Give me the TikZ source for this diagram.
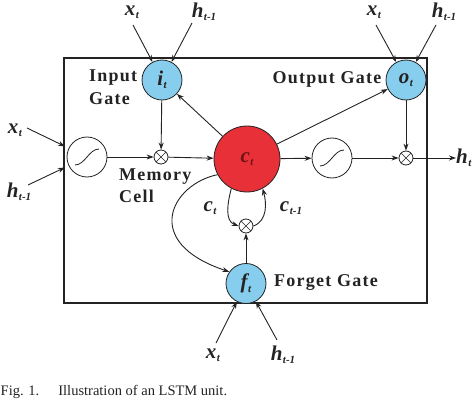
\documentclass[tikz,border=0pt]{standalone}
\usepackage{fontspec}
\setmainfont{Liberation Serif}
\newfontfamily\lblfont{Liberation Serif}[LetterSpace=7]
\usetikzlibrary{arrows.meta}
\definecolor{gateblue}{RGB}{135,206,238}
\definecolor{cellred}{RGB}{232,48,56}
\definecolor{ink}{RGB}{35,35,35}
\definecolor{darkred}{RGB}{110,20,22}
\newcommand\mvar[2]{{\bfseries\itshape\fontsize{21}{21}\selectfont #1}\kern0.5pt\raisebox{-3.5pt}{\bfseries\itshape\fontsize{11}{11}\selectfont #2}}
\tikzset{
  conn/.style={draw=ink, line width=0.9pt, -{Stealth[length=7pt,width=5pt]}},
  gate/.style={circle, draw=ink, line width=0.8pt, fill=gateblue, minimum size=40pt, inner sep=0pt, text=ink},
  cell/.style={circle, draw=ink, line width=0.8pt, fill=cellred, minimum size=66pt, inner sep=0pt, text=darkred},
  squash/.style={circle, draw=ink, line width=0.8pt, fill=white, minimum size=40pt, inner sep=0pt},
  mult/.style={circle, draw=ink, line width=0.8pt, fill=white, minimum size=14pt, inner sep=0pt,
    path picture={\draw[ink, line width=0.7pt] (path picture bounding box.south west) ++(2.05pt,2.05pt) -- ++(9.9pt,9.9pt)
      (path picture bounding box.north west) ++(2.05pt,-2.05pt) -- ++(9.9pt,-9.9pt);}},
  lbl/.style={font=\lblfont\bfseries\fontsize{18}{18}\selectfont, text=ink, inner sep=0pt},
  var/.style={text=ink, inner sep=0pt},
  unit/.style={draw=ink, line width=2.3pt},
}
\begin{document}
\begin{tikzpicture}[x=1pt,y=-1pt]
\useasboundingbox (0,0) rectangle (474,401);
% box
\draw[unit] (64,58) rectangle (427,303);
% nodes
\node[gate] (it) at (162,80) {\mvar{i}{t}};
\node[gate] (ot) at (406,80) {\mvar{o}{t}};
\node[gate] (ft) at (246,283.5) {\mvar{f}{t}};
\node[cell] (ct) at (247,159) {\mvar{c}{t}};
\node[squash] (sigL) at (87,157) {};
\node[squash] (sigR) at (332,158) {};
\node[mult] (mulL) at (161,157) {};
\node[mult] (mulR) at (406,158) {};
\node[mult] (mulM) at (246,226) {};
% sigmoid glyphs
\draw[ink, line width=0.8pt] (sigL.center) ++(-12,8) .. controls ++(10,0) and ++(-10,0) .. ++(24,-16);
\draw[ink, line width=0.8pt] (sigR.center) ++(-12,8) .. controls ++(10,0) and ++(-10,0) .. ++(24,-16);
% variable labels
\node[var] (xA) at (132,12) {\mvar{x}{t}};
\node[var] (hA) at (204,12) {\mvar{h}{t-1}};
\node[var] (xB) at (374,12) {\mvar{x}{t}};
\node[var] (hB) at (444,12) {\mvar{h}{t-1}};
\node[var] (xC) at (15,130) {\mvar{x}{t}};
\node[var] (hC) at (19,192) {\mvar{h}{t-1}};
\node[var] (xD) at (213,355) {\mvar{x}{t}};
\node[var] (hD) at (283,355) {\mvar{h}{t-1}};
\node[var,anchor=west] (ht) at (456,158) {\mvar{h}{t}};
\node[var] (cl) at (210,208) {\mvar{c}{t}};
\node[var] (cp) at (291,208) {\mvar{c}{t-1}};
% text labels
\node[lbl,anchor=west] (inp) at (89,78) {Input};
\node[lbl,anchor=west] (inpg) at (89,99) {Gate};
\node[lbl] (outg) at (327,79) {Output Gate};
\node[lbl,anchor=west] (mem) at (119,177) {Memory};
\node[lbl,anchor=west] (cel) at (119,196) {Cell};
\node[lbl] (forg) at (326,283) {Forget Gate};
% input arrow starts
\coordinate (sA1) at (133,25);
\coordinate (sA2) at (192,23);
\coordinate (sB1) at (376,25);
\coordinate (sB2) at (436,25);
\coordinate (sC1) at (27,128);
\coordinate (sC2) at (28,185);
\coordinate (sD1) at (216,343);
\coordinate (sD2) at (277,340);
\draw[conn] (sA1) -- (it);
\draw[conn] (sA2) -- (it);
\draw[conn] (sB1) -- (ot);
\draw[conn] (sB2) -- (ot);
\draw[conn, shorten >=4pt] (sC1) -- (sigL);
\draw[conn, shorten >=4pt] (sC2) -- (sigL);
\draw[conn] (sD1) -- (ft);
\draw[conn] (sD2) -- (ft);
% internal flow
\draw[conn] (sigL) -- (mulL);
\draw[conn] (mulL) -- (ct);
\draw[conn] (it) -- (mulL);
\draw[conn] (ct) -- (it);
\draw[conn] (ct) -- (ot);
\draw[conn] (ct) -- (sigR);
\draw[conn] (sigR) -- (mulR);
\draw[conn] (ot) -- (mulR);
\draw[conn] (mulR) -- (ht);
\draw[conn] (ft) -- (mulM);
\draw[conn] (ct.-118) to[out=-105, in=160] (mulM.west);
\draw[conn] (mulM.east) to[out=20, in=-75] (ct.-62);
\draw[conn] (ct.-152) .. controls (172,184) and (140,242) .. (ft.145);
% caption
\node[anchor=west, inner sep=0pt, text=ink, font=\fontsize{14.5}{14.5}\selectfont] (cap) at (0.5,392) {Fig. 1.\hspace{19pt}Illustration of an LSTM unit.};
\end{tikzpicture}
\end{document}
